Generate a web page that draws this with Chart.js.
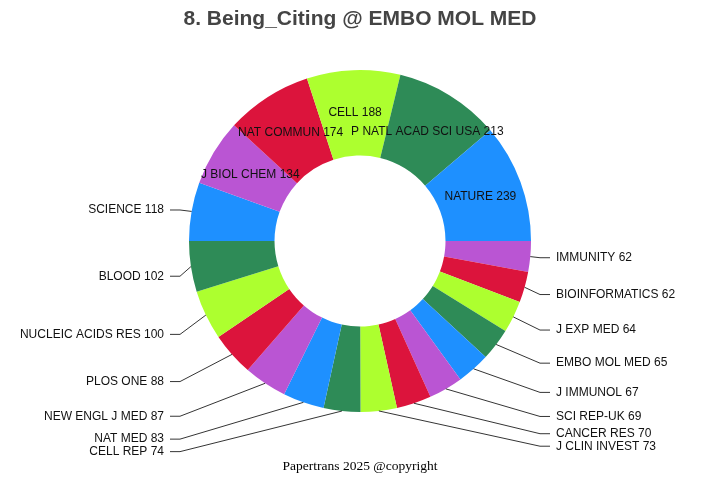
<!DOCTYPE html>
<html><head><meta charset="utf-8">
<script src="https://cdn.jsdelivr.net/npm/chart.js@4.4.0/dist/chart.umd.min.js"></script>
<style>html,body{margin:0;padding:0;background:#fff;}</style>
</head><body>
<canvas id="c" width="720" height="480"></canvas>
<script>
const titleText = '8. Being_Citing @ EMBO MOL MED';
const footerText = 'Papertrans 2025 @copyright';
const journals = ['IMMUNITY','BIOINFORMATICS','J EXP MED','EMBO MOL MED','J IMMUNOL','SCI REP-UK','CANCER RES','J CLIN INVEST','CELL REP','NAT MED','NEW ENGL J MED','PLOS ONE','NUCLEIC ACIDS RES','BLOOD','SCIENCE','J BIOL CHEM','NAT COMMUN','CELL','P NATL ACAD SCI USA','NATURE'];
const counts = [62,62,64,65,67,69,70,73,74,83,87,88,100,102,118,134,174,188,213,239];
const palette = ['#BA55D3','#DC143C','#ADFF2F','#2E8B57','#1E90FF'];

const sans = '"Liberation Sans", Arial, Helvetica, sans-serif';
const serif = '"Liberation Serif", "Times New Roman", serif';

const labelPlugin = {
  id: 'sliceLabels',
  afterDatasetsDraw(chart) {
    const ctx = chart.ctx;
    const meta = chart.getDatasetMeta(0);
    const data = chart.data.datasets[0].data;
    const total = data.reduce((a, b) => a + b, 0);
    const left = [], right = [];
    ctx.save();
    ctx.font = '12px ' + sans;
    ctx.fillStyle = '#111';
    ctx.textBaseline = 'middle';
    meta.data.forEach((arc, i) => {
      const p = arc.getProps(['x','y','startAngle','endAngle','outerRadius','innerRadius'], true);
      const mid = (p.startAngle + p.endAngle) / 2;
      const txt = chart.data.labels[i] + ' ' + data[i];
      if (data[i] / total > 0.06) {
        const r = (p.outerRadius + p.innerRadius) / 2;
        ctx.textAlign = 'center';
        ctx.fillText(txt, p.x + r * Math.cos(mid), p.y + r * Math.sin(mid));
      } else {
        const item = {txt, mid, p, y: p.y + 1.2 * p.outerRadius * Math.sin(mid)};
        if (Math.cos(mid) >= 0) { item.y -= 2; right.push(item); }
        else { item.y += 4.5; left.push(item); }
      }
    });
    const spread = arr => {
      arr.sort((a, b) => a.y - b.y);
      for (let k = 1; k < arr.length; k++) {
        if (arr[k].y < arr[k-1].y + 12.5) arr[k].y = arr[k-1].y + 12.5;
      }
    };
    spread(left); spread(right);
    ctx.strokeStyle = '#000';
    ctx.lineWidth = 0.8;
    const drawSide = (arr, dir) => {
      arr.forEach(it => {
        const p = it.p;
        const sx = p.x + p.outerRadius * Math.cos(it.mid);
        const sy = p.y + p.outerRadius * Math.sin(it.mid);
        ctx.beginPath();
        ctx.moveTo(sx, sy);
        ctx.lineTo(p.x + dir * 180, it.y);
        ctx.lineTo(p.x + dir * 190, it.y);
        ctx.stroke();
        ctx.textAlign = dir > 0 ? 'left' : 'right';
        ctx.fillText(it.txt, p.x + dir * 196, it.y);
      });
    };
    drawSide(right, 1);
    drawSide(left, -1);
    ctx.restore();
  }
};

new Chart(document.getElementById('c'), {
  type: 'doughnut',
  data: {
    labels: journals,
    datasets: [{
      data: counts,
      backgroundColor: journals.map((_, i) => palette[i % palette.length]),
      borderWidth: 0
    }]
  },
  options: {
    responsive: false,
    animation: false,
    rotation: 90,
    radius: 171,
    cutout: '50%',
    layout: {padding: 0},
    plugins: {
      legend: {display: false},
      tooltip: {enabled: false},
      title: {
        display: true,
        text: titleText,
        color: '#444',
        font: {family: sans, size: 21, weight: 'bold', lineHeight: 1.2},
        padding: {top: 7, bottom: 0}
      },
      subtitle: {
        display: true,
        position: 'bottom',
        text: footerText,
        color: '#000',
        font: {family: serif, size: 13.5, weight: 'normal', lineHeight: 1.2},
        padding: {top: 9, bottom: 5}
      }
    }
  },
  plugins: [labelPlugin]
});
</script>
</body></html>
